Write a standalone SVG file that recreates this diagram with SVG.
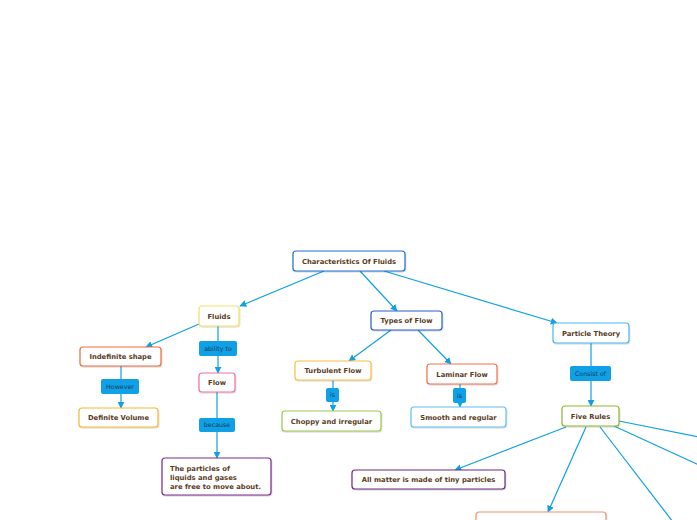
<svg xmlns="http://www.w3.org/2000/svg" width="697" height="520" viewBox="0 0 697 520">
<defs>
<marker id="arr" viewBox="0 0 10 10" refX="9" refY="5" markerWidth="7" markerHeight="7" markerUnits="userSpaceOnUse" orient="auto">
<path d="M0,0 L10,5 L0,10 z" fill="#10a0e6"/>
</marker>
<filter id="sh" x="-10%" y="-20%" width="130%" height="160%">
<feDropShadow dx="0.5" dy="1" stdDeviation="0.6" flood-color="#000" flood-opacity="0.18"/>
</filter>
</defs>
<style>
.n{fill:#fff;stroke-width:1.2;filter:url(#sh)}
.t{font-family:"DejaVu Sans",Verdana,sans-serif;font-size:6.8px;font-weight:bold;fill:#5a3c1e;text-anchor:middle}
.tl{font-family:"DejaVu Sans",Verdana,sans-serif;font-size:6.8px;font-weight:bold;fill:#5a3c1e}
.lb{fill:#10a0e6}
.lt{font-family:"DejaVu Sans",Verdana,sans-serif;font-size:6.3px;fill:#1b3b5a;text-anchor:middle}
.c{stroke:#10a0e6;stroke-width:1.2;fill:none}
.ca{stroke:#10a0e6;stroke-width:1.2;fill:none;marker-end:url(#arr)}
</style>
<rect width="697" height="520" fill="#fff"/>
<g id="connectors">
<line class="ca" x1="324" y1="271" x2="240" y2="306"/>
<line class="ca" x1="360" y1="271" x2="397" y2="311"/>
<line class="ca" x1="384" y1="271" x2="557" y2="323"/>
<line class="ca" x1="199" y1="324" x2="146" y2="347"/>
<line class="c" x1="218" y1="326" x2="218" y2="341"/>
<line class="ca" x1="218" y1="356" x2="218" y2="373"/>
<line class="c" x1="121" y1="366" x2="121" y2="379"/>
<line class="ca" x1="121" y1="394" x2="121" y2="408"/>
<line class="c" x1="217" y1="392" x2="217" y2="418"/>
<line class="ca" x1="217" y1="432" x2="217" y2="458"/>
<line class="ca" x1="391" y1="330" x2="349" y2="361"/>
<line class="ca" x1="418" y1="330" x2="451" y2="364"/>
<line class="c" x1="333" y1="380" x2="333" y2="388"/>
<line class="ca" x1="333" y1="402" x2="333" y2="411"/>
<line class="c" x1="460" y1="384" x2="460" y2="388"/>
<line class="ca" x1="460" y1="403" x2="460" y2="407"/>
<line class="c" x1="591" y1="343" x2="591" y2="366"/>
<line class="ca" x1="591" y1="381" x2="591" y2="406"/>
<line class="ca" x1="566" y1="427" x2="455" y2="470"/>
<line class="ca" x1="586" y1="427" x2="548" y2="512"/>
<line class="c" x1="600" y1="427" x2="673" y2="522"/>
<line class="c" x1="614" y1="426" x2="699" y2="465"/>
<line class="c" x1="619" y1="421" x2="699" y2="437"/>
</g>
<g id="characteristics"><rect class="n" x="293" y="251" width="112" height="20" rx="3" stroke="#1f6fd6"/><text class="t" x="349" y="263.5">Characteristics Of Fluids</text></g>
<g id="fluids"><rect class="n" x="199" y="306" width="40" height="20" rx="3" stroke="#f2e26a"/><text class="t" x="219" y="318.5">Fluids</text></g>
<g id="types-of-flow"><rect class="n" x="371" y="311" width="71" height="19" rx="3" stroke="#2a5fc8"/><text class="t" x="406.5" y="323">Types of Flow</text></g>
<g id="particle-theory"><rect class="n" x="553" y="323" width="76" height="20" rx="3" stroke="#4cb8f0"/><text class="t" x="591" y="335.5">Particle Theory</text></g>
<g id="indefinite-shape"><rect class="n" x="80" y="347" width="81" height="19" rx="3" stroke="#f06a40"/><text class="t" x="120.5" y="359">Indefinite shape</text></g>
<g id="lbl-ability"><rect class="lb" x="199" y="341" width="38" height="15" rx="2"/><text class="lt" x="218" y="350.8">ability to</text></g>
<g id="flow"><rect class="n" x="199" y="373" width="36" height="19" rx="3" stroke="#f070a0"/><text class="t" x="217" y="385">Flow</text></g>
<g id="lbl-however"><rect class="lb" x="101" y="379" width="38" height="15" rx="2"/><text class="lt" x="120" y="388.8">However</text></g>
<g id="definite-volume"><rect class="n" x="79" y="408" width="79" height="19" rx="3" stroke="#f5b830"/><text class="t" x="118.5" y="420">Definite Volume</text></g>
<g id="lbl-because"><rect class="lb" x="199" y="418" width="36" height="14" rx="2"/><text class="lt" x="217" y="427.3">because</text></g>
<g id="particles-free"><rect class="n" x="162" y="458" width="109" height="37" rx="3" stroke="#7a2a90"/><text class="tl" x="170" y="470.5">The particles of</text><text class="tl" x="170" y="479.5">liquids and gases</text><text class="tl" x="170" y="488.5">are free to move about.</text></g>
<g id="turbulent-flow"><rect class="n" x="295" y="361" width="76" height="19" rx="3" stroke="#f8c040"/><text class="t" x="333" y="373">Turbulent Flow</text></g>
<g id="laminar-flow"><rect class="n" x="427" y="364" width="70" height="20" rx="3" stroke="#f07050"/><text class="t" x="462" y="376.5">Laminar Flow</text></g>
<g id="lbl-is1"><rect class="lb" x="326" y="388" width="13" height="14" rx="2"/><text class="lt" x="332.5" y="397.3">is</text></g>
<g id="lbl-is2"><rect class="lb" x="453" y="388" width="13" height="15" rx="2"/><text class="lt" x="459.5" y="397.8">is</text></g>
<g id="choppy"><rect class="n" x="282" y="411" width="99" height="20" rx="3" stroke="#9cc850"/><text class="t" x="331.5" y="423.5">Choppy and irregular</text></g>
<g id="smooth"><rect class="n" x="411" y="407" width="95" height="20" rx="3" stroke="#60c0f0"/><text class="t" x="458.5" y="419.5">Smooth and regular</text></g>
<g id="lbl-consist"><rect class="lb" x="570" y="366" width="41" height="15" rx="2"/><text class="lt" x="590.5" y="375.8">Consist of</text></g>
<g id="five-rules"><rect class="n" x="562" y="406" width="57" height="20" rx="3" stroke="#90b830"/><text class="t" x="590.5" y="418.5">Five Rules</text></g>
<g id="all-matter"><rect class="n" x="352" y="470" width="153" height="19" rx="3" stroke="#6a2a80"/><text class="t" x="428.5" y="482">All matter is made of tiny particles</text></g>
<g id="rule-2"><rect class="n" x="476" y="512" width="130" height="30" rx="3" stroke="#f09070"/></g>
</svg>
